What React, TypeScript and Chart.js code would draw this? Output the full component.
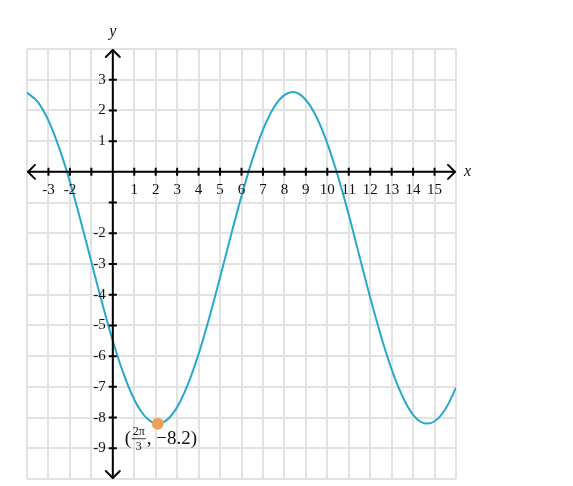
import { useEffect, useRef } from 'react';
import { Chart, registerables } from 'chart.js';
import type { Plugin } from 'chart.js';

Chart.register(...registerables);

// curve samples
const curveX = [
	-4, -3.5, -3, -2.5, -2, -1.5, -1, -0.5, 0, 0.5, 1, 1.5, 2, 2.5, 3, 3.5, 4,
	4.5, 5, 5.5, 6, 6.5, 7, 7.5, 8, 8.5, 9, 9.5, 10, 10.5, 11, 11.5, 12, 12.5,
	13, 13.5, 14, 14.5, 15, 15.5, 16,
];
const curveY = [
	2.58, 2.28, 1.67, 0.78, -0.32, -1.59, -2.93, -4.26, -5.5, -6.57, -7.41,
	-7.96, -8.19, -8.09, -7.66, -6.92, -5.93, -4.74, -3.44, -2.09, -0.79, 0.39,
	1.37, 2.09, 2.5, 2.59, 2.34, 1.78, 0.93, -0.15, -1.4, -2.75, -4.09, -5.34,
	-6.43, -7.3, -7.91, -8.18, -8.12, -7.73, -7.03,
];
const pointX = [2.0944];
const pointY = [-8.2];

const gridX = [-4, -3, -2, -1, 0, 1, 2, 3, 4, 5, 6, 7, 8, 9, 10, 11, 12, 13, 14, 15, 16];
const gridY = [-10, -9, -8, -7, -6, -5, -4, -3, -2, -1, 0, 1, 2, 3, 4];
const xTickLabels = [-3, -2, 1, 2, 3, 4, 5, 6, 7, 8, 9, 10, 11, 12, 13, 14, 15];
const yTickLabels = [3, 2, 1, -2, -3, -4, -5, -6, -7, -8, -9];

const SERIF = '"Liberation Serif", "DejaVu Serif", serif';

const axesPlugin: Plugin<'line'> = {
	id: 'axes',
	beforeDatasetsDraw(chart) {
		const { ctx, chartArea: a } = chart;
		const xs = chart.scales.x;
		const ys = chart.scales.y;
		ctx.save();
		ctx.strokeStyle = '#e2e2e2';
		ctx.lineWidth = 2;
		gridX.forEach((v) => {
			const px = Math.round(xs.getPixelForValue(v));
			ctx.beginPath();
			ctx.moveTo(px, a.top);
			ctx.lineTo(px, a.bottom);
			ctx.stroke();
		});
		gridY.forEach((v) => {
			const py = Math.round(ys.getPixelForValue(v));
			ctx.beginPath();
			ctx.moveTo(a.left, py);
			ctx.lineTo(a.right, py);
			ctx.stroke();
		});
		ctx.restore();
	},
	afterDatasetsDraw(chart) {
		const { ctx, chartArea: a } = chart;
		const xs = chart.scales.x;
		const ys = chart.scales.y;
		const x0 = xs.getPixelForValue(0);
		const y0 = ys.getPixelForValue(0);
		ctx.save();
		ctx.strokeStyle = '#000';
		ctx.lineWidth = 2;
		ctx.lineCap = 'round';
		ctx.lineJoin = 'round';

		// axes lines
		ctx.beginPath();
		ctx.moveTo(a.left + 1, y0);
		ctx.lineTo(a.right - 1, y0);
		ctx.moveTo(x0, a.top + 1);
		ctx.lineTo(x0, a.bottom - 1);
		ctx.stroke();

		// arrow heads
		const h = 7;
		ctx.beginPath();
		ctx.moveTo(a.left + 1 + h, y0 - h);
		ctx.lineTo(a.left + 1, y0);
		ctx.lineTo(a.left + 1 + h, y0 + h);
		ctx.moveTo(a.right - 1 - h, y0 - h);
		ctx.lineTo(a.right - 1, y0);
		ctx.lineTo(a.right - 1 - h, y0 + h);
		ctx.moveTo(x0 - h, a.top + 1 + h);
		ctx.lineTo(x0, a.top + 1);
		ctx.lineTo(x0 + h, a.top + 1 + h);
		ctx.moveTo(x0 - h, a.bottom - 1 - h);
		ctx.lineTo(x0, a.bottom - 1);
		ctx.lineTo(x0 + h, a.bottom - 1 - h);
		ctx.stroke();

		// tick marks
		ctx.lineCap = 'butt';
		ctx.beginPath();
		gridX.slice(1, -1).forEach((v) => {
			if (v === 0) return;
			const px = xs.getPixelForValue(v);
			ctx.moveTo(px, y0 - 4);
			ctx.lineTo(px, y0 + 4);
		});
		gridY.slice(1, -1).forEach((v) => {
			if (v === 0) return;
			const py = ys.getPixelForValue(v);
			ctx.moveTo(x0 - 4, py);
			ctx.lineTo(x0 + 4, py);
		});
		ctx.stroke();

		// tick labels
		ctx.fillStyle = '#111';
		ctx.font = `15px ${SERIF}`;
		ctx.textAlign = 'center';
		ctx.textBaseline = 'middle';
		xTickLabels.forEach((v) => {
			ctx.fillText(String(v), xs.getPixelForValue(v), y0 + 18);
		});
		ctx.textAlign = 'right';
		yTickLabels.forEach((v) => {
			ctx.fillText(String(v), x0 - 7, ys.getPixelForValue(v));
		});

		// axis names
		ctx.font = `italic 16px ${SERIF}`;
		ctx.textAlign = 'center';
		ctx.fillText('y', x0, a.top - 17);
		ctx.textAlign = 'left';
		ctx.fillText('x', a.right + 8, y0);

		// point label (2π/3, −8.2)
		const lx = xs.getPixelForValue(pointX[0]);
		const ly = ys.getPixelForValue(pointY[0]);
		const bx = lx - 33;
		const by = ly + 15;
		ctx.font = `19px ${SERIF}`;
		ctx.textAlign = 'left';
		ctx.fillText('(', bx, by);
		ctx.font = `12px ${SERIF}`;
		ctx.textAlign = 'center';
		ctx.fillText('2π', bx + 14, by - 7);
		ctx.fillText('3', bx + 14, by + 8);
		ctx.lineWidth = 0.8;
		ctx.beginPath();
		ctx.moveTo(bx + 7, by);
		ctx.lineTo(bx + 21, by);
		ctx.stroke();
		ctx.font = `19px ${SERIF}`;
		ctx.textAlign = 'left';
		ctx.fillText(', −8.2)', bx + 22, by);
		ctx.restore();
	},
};

export default function App() {
	const canvasRef = useRef<HTMLCanvasElement | null>(null);

	useEffect(() => {
		const el = canvasRef.current;
		if (!el) return undefined;
		const chart = new Chart(el, {
			type: 'line',
			data: {
				datasets: [
					{
						data: curveX.map((x, i) => ({ x, y: curveY[i] })),
						borderColor: '#29a8cb',
						borderWidth: 2,
						pointRadius: 0,
						tension: 0.4,
						fill: false,
						order: 2,
					},
					{
						data: pointX.map((x, i) => ({ x, y: pointY[i] })),
						showLine: false,
						pointRadius: 6,
						pointBackgroundColor: '#eaa35c',
						pointBorderColor: '#eaa35c',
						pointBorderWidth: 0,
						order: 1,
					},
				],
			},
			options: {
				animation: false,
				responsive: false,
				layout: { padding: { left: 27, right: 117, top: 49, bottom: 7 } },
				plugins: { legend: { display: false }, tooltip: { enabled: false } },
				scales: {
					x: { type: 'linear', min: -4, max: 16, display: false },
					y: { type: 'linear', min: -10, max: 4, display: false },
				},
			},
			plugins: [axesPlugin],
		});
		return () => chart.destroy();
	}, []);

	return (
		<div style={{ position: 'fixed', left: 0, top: 0, width: 573, height: 486, background: '#fff' }}>
			<canvas ref={canvasRef} width={573} height={486} />
		</div>
	);
}
